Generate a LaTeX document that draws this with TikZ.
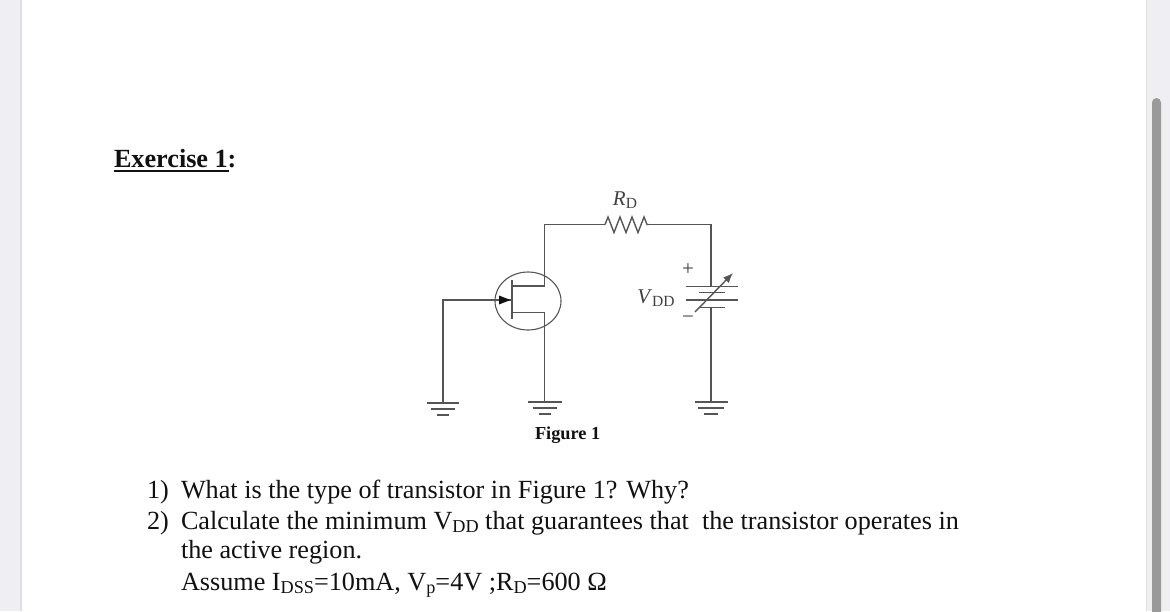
\documentclass[tikz,border=0pt]{standalone}
\usepackage{fontspec}
\setmainfont{Liberation Serif}
\usetikzlibrary{arrows.meta}
\definecolor{wirec}{HTML}{555555}
\definecolor{inkc}{HTML}{111111}
\definecolor{stripc}{HTML}{EEEEF3}
\definecolor{barc}{HTML}{9A9A9A}
\newcommand{\bodysub}[1]{\raisebox{-0.13em}{\fontsize{18.2}{18}\selectfont #1}}
\newcommand{\smallsub}[1]{\raisebox{-0.15em}{\fontsize{15.5}{16}\selectfont #1}}
\tikzset{
  x=1pt,y=-1pt,
  wire/.style={draw=wirec,line width=1.4pt},
  plate/.style={draw=wirec,line width=1.3pt},
  gndline/.style={draw=wirec,line width=1.3pt},
  txt/.style={anchor=base west,inner sep=0pt,outer sep=0pt,text=inkc,font=\fontsize{26.2}{26}\selectfont},
  clabel/.style={inner sep=0pt,outer sep=0pt,text=inkc!80,font=\fontsize{21}{21}\selectfont},
}
\begin{document}
\begin{tikzpicture}
\useasboundingbox (0,0) rectangle (1170,611);
% page chrome
\fill[white] (0,0) rectangle (1170,611);
\fill[stripc] (0,0) rectangle (21,611);
\fill[stripc] (1146,0) rectangle (1170,611);
\fill[black!12] (20,0) rectangle (21.5,611);
\fill[black!12] (1145.5,0) rectangle (1147,611);
\fill[barc,rounded corners=4.5pt] (1152,98) rectangle (1161,625);
% heading
\node[txt,font=\fontsize{26.2}{26}\selectfont\bfseries] (head) at (114,167.5) {Exercise 1:};
\coordinate (ula) at (114,171);
\coordinate (ulb) at (229,171);
\draw[inkc,line width=2.4pt] (ula) -- (ulb);
% circuit coordinates
\coordinate (TL) at (544.5,224.5);
\coordinate (RA) at (605,224.5);
\coordinate (RB) at (649,224.5);
\coordinate (TR) at (711,224.5);
\coordinate (D) at (544.5,286);
\coordinate (S) at (544.5,312.5);
\coordinate (Dg) at (512,286);
\coordinate (Sg) at (512,312.5);
\coordinate (G) at (512,300);
\coordinate (GL) at (443,300);
\coordinate (GG1) at (443,403);
\coordinate (GG2) at (544.5,402);
\coordinate (GG3) at (711,402);
\coordinate (BT) at (711,286.5);
\coordinate (BB) at (711,307.5);
% wires
\draw[wire] (D) -- (TL) -- (RA);
\draw[wire] (RB) -- (TR) -- (BT);
\draw[wire] (RA) -- (608,217) -- (614,232.5) -- (620,217) -- (626,232.5) -- (632,217) -- (638,232.5) -- (644,217) -- (647,224.5) -- (RB);
% JFET
\draw[draw=wirec,line width=1.1pt] (528,301) ellipse [x radius=33,y radius=29];
\draw[draw=wirec,line width=2pt] (512,280) -- (512,319);
\draw[wire] (Dg) -- (D);
\draw[wire] (Sg) -- (S) -- (GG2);
\draw[wire] (GG1) -- (GL) -- (G);
\draw[fill=inkc,draw=none] (510.5,300) -- (499,295.5) -- (499,304.5) -- cycle;
% battery
\draw[wire] (BB) -- (GG3);
\draw[plate] (685.5,286.5) -- (738,286.5);
\draw[plate] (699,292.5) -- (725,292.5);
\draw[plate] (685.5,300) -- (738,300);
\draw[plate] (699,307.5) -- (725,307.5);
\draw[wire,-{Latex[length=10pt,width=8pt]}] (695,312) -- (733,273);
% grounds
\foreach \c/\a/\b/\d/\ya in {443/16/12/6/403,544.5/17/12/6/402,711/16.5/13/7/402}{
  \draw[gndline] (\c-\a,\ya) -- (\c+\a,\ya);
  \draw[gndline] (\c-\b,\ya+6) -- (\c+\b,\ya+6);
  \draw[gndline] (\c-\d,\ya+12) -- (\c+\d,\ya+12);
}
% circuit labels
\node[clabel] (rd) at (625,200) {\textit{R}\smallsub{D}};
\node[clabel] (vdd) at (656,298) {\textit{V}\smallsub{DD}};
\node[clabel] (plus) at (688,270) {+};
\node[clabel] (minus) at (688,320) {\textminus};
\node[txt,font=\fontsize{18.3}{18}\selectfont\bfseries] (fig) at (535,439) {Figure 1};
% questions
\node[txt] (n1) at (147,498) {1)};
\node[txt] (q1) at (181,498) {What is the type of transistor in Figure 1? Why?};
\node[txt] (n2) at (147,529) {2)};
\node[txt] (q2) at (181,529) {Calculate the minimum V\bodysub{DD} that guarantees that\ \ the transistor operates in};
\node[txt] (q3) at (181,558) {the active region.};
\node[txt] (q4) at (181,590) {Assume I\bodysub{DSS}=10mA, V\bodysub{p}=4V ;R\bodysub{D}=600 Ω};
\end{tikzpicture}
\end{document}
